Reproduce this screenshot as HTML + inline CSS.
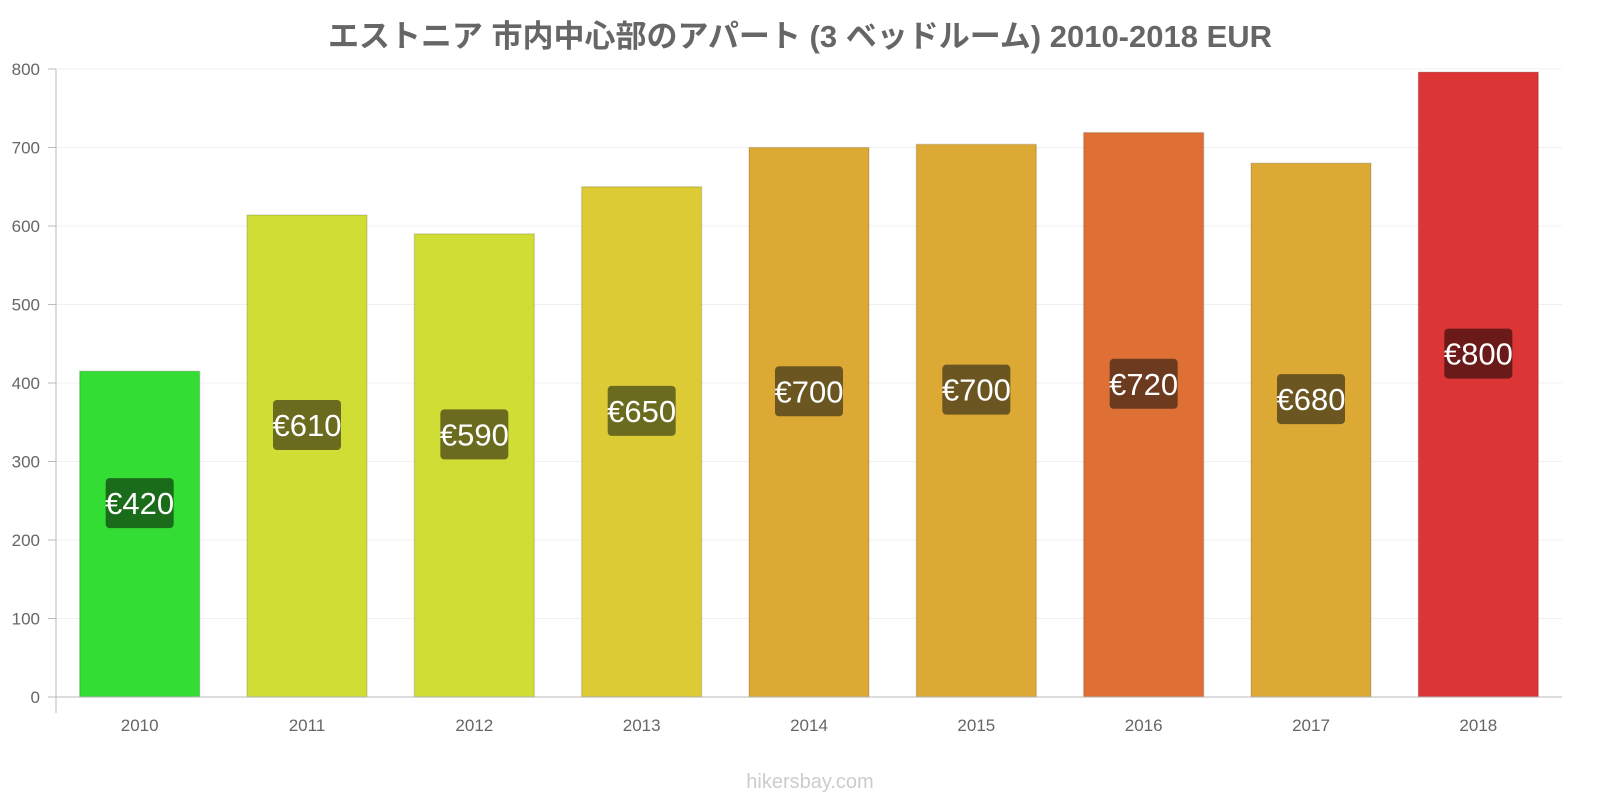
<!DOCTYPE html>
<html><head><meta charset="utf-8">
<style>
body{margin:0;background:#fff;}
svg text{font-family:"Liberation Sans","Noto Sans CJK JP",sans-serif;}
</style></head>
<body>
<svg id="chart" width="1600" height="800" viewBox="0 0 1600 800" xmlns="http://www.w3.org/2000/svg">
<text x="800" y="47" text-anchor="middle" font-size="31" font-weight="bold" fill="#666">エストニア 市内中心部のアパート (3 ベッドルーム) 2010-2018 EUR</text>
<g id="grid"></g>
<g id="bars"></g>
<g id="axes"></g>
<text x="810" y="788" text-anchor="middle" font-size="20" fill="#ccc">hikersbay.com</text>
</svg>
<script>
const categories=["2010","2011","2012","2013","2014","2015","2016","2017","2018"];
const values=[415,614,590,650,700,704,719,680,796];
const labels=["€420","€610","€590","€650","€700","€700","€720","€680","€800"];
const yTicks=[0,100,200,300,400,500,600,700,800];
const barColors=["#33dd33","#d0dd35","#d0dd35","#dccb35","#dda935","#dda935","#de7035","#dda935","#dc3535"];
const labelColors=["#1a6b1a","#6b6b1f","#6b6b1f","#6b6b1f","#6b5520","#6b5520","#6b3a1f","#6b5520","#6b1a1a"];

const NS="http://www.w3.org/2000/svg";
const x0=56,x1=1562,yB=697,yT=69,yMax=800;
const bw=(x1-x0)/categories.length;
function y(v){return yB-(v/yMax)*(yB-yT);}
function xc(i){return x0+bw*(i+0.5);}
function mk(tag,attrs,parent){const e=document.createElementNS(NS,tag);for(const k in attrs)e.setAttribute(k,attrs[k]);parent.appendChild(e);return e;}
const grid=document.getElementById('grid'),bars=document.getElementById('bars'),axes=document.getElementById('axes');
yTicks.forEach(t=>{
  const l=mk('line',{x1:x0,x2:x1,y1:y(t),y2:y(t),stroke:'#f0f0f0'},grid);
  
  
  const tk=mk('line',{x1:x0-8,x2:x0,y1:y(t),y2:y(t),stroke:'#bbb'},axes);
  
  
  const tx=mk('text',{x:x0-16,y:y(t)+6,'text-anchor':'end','font-size':17,fill:'#666'},axes);
  tx.textContent=t;
  
  
});
const ya=mk('line',{x1:x0,x2:x0,y1:yT,y2:yB+16,stroke:'#bbb'},axes);


const xa=mk('line',{x1:x0,x2:x1,y1:yB,y2:yB,stroke:'#bbb'},axes);


categories.forEach((c,i)=>{
  const cx=xc(i),w=120,top=y(values[i]);
  const r=mk('rect',{x:cx-w/2,y:top,width:w,height:yB-top,fill:barColors[i],stroke:'rgba(0,0,0,0.12)','stroke-width':1.5},bars);
  
  
  const ly=(top+yB)/2-31;
  const lw=labels[i].length*15+8;
  const lb=mk('rect',{x:cx-lw/2,y:ly-25,width:lw,height:50,rx:4,fill:labelColors[i]},bars);
  
  
  const lt=mk('text',{x:cx,y:ly+11,'text-anchor':'middle','font-size':31,fill:'#fff'},bars);
  lt.textContent=labels[i];
  
  
  const xt=mk('text',{x:cx,y:731,'text-anchor':'middle','font-size':17,fill:'#666'},axes);
  xt.textContent=c;
  
  
});
</script>
</body></html>
